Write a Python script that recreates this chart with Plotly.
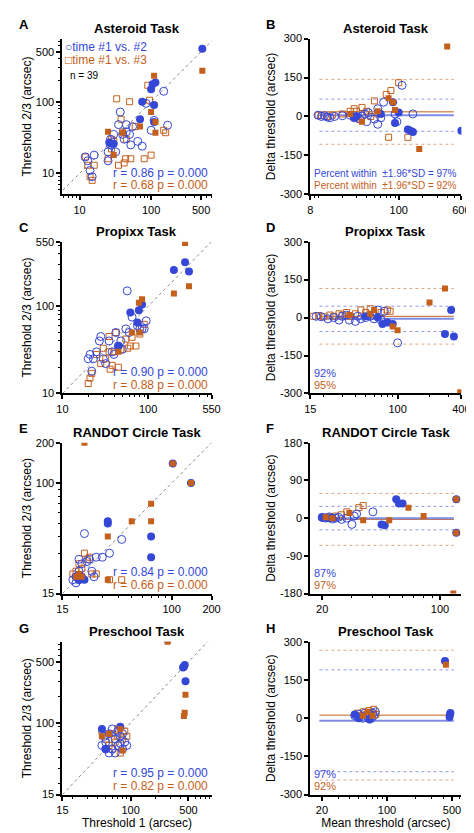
import plotly.graph_objects as go
import numpy as np

BLUE = "#3547d6"
ORANGE = "#c4601c"

# ---------------- Panel A (Asteroid scatter) ----------------
a_b_open_x = [12,13,14,15,16,25,25,27,30,32,35,37,40,45,45,50,52,55,65,75,85,100,110,150,170,27,42]
a_b_open_y = [17,15,11,9,18,20,15,25,35,20,48,72,35,48,38,35,25,45,28,24,95,40,55,140,47,30,30]
a_b_fill_x = [26,28,30,70,75,100,105,115,110,110,520]
a_b_fill_y = [27,26,26,57,100,150,175,185,90,52,550]
a_o_open_x = [12,13,14,15,16,25,28,30,33,35,38,40,42,44,50,52,60,80,90,95,100,150,160,28,45]
a_o_open_y = [17,13,9,8,13,16,22,28,110,13,57,38,14,16,100,16,45,16,170,105,18,40,37,30,30]
a_o_fill_x = [25,30,40,70,100,110,115,115,520]
a_o_fill_y = [38,18,37,45,72,230,52,37,270]

# ---------------- Panel B (Asteroid Bland-Altman) ----------------
b_b_open_x = [10,11,12,13,14,16,20,25,30,33,38,40,42,50,55,55,60,65,90,95,110,150,28,35]
b_b_open_y = [5,0,3,-2,-5,0,3,5,0,-10,10,-20,15,-10,-30,30,-5,55,10,-20,120,10,-5,2]
b_b_fill_x = [28,30,60,85,90,100,130,140,150,600]
b_b_fill_y = [-3,0,10,55,-25,15,-50,-55,-60,-55]
b_o_open_x = [10,11,13,15,20,25,28,30,35,40,45,50,55,70,75,80,100,130,32]
b_o_open_y = [5,3,0,5,10,20,30,20,35,20,0,60,10,85,-80,100,130,-80,-10]
b_o_fill_x = [25,35,55,75,85,90,180,400]
b_o_fill_y = [10,-20,20,70,55,25,-125,270]
b_stats = dict(bm=5, om=18, bsd=62, osd=125)

# ---------------- Panel C (Propixx scatter) ----------------
c_b_open_x = [20,21,22,23,25,27,28,30,32,35,38,40,42,45,48,50,55,57,60,65,75,80,85,90,95]
c_b_open_y = [25,28,18,25,30,40,45,25,22,40,30,28,50,35,40,32,55,150,50,75,60,55,55,55,68]
c_b_fill_x = [45,62,75,78,85,200,270,300]
c_b_fill_y = [35,85,65,90,105,260,320,250]
c_o_open_x = [20,21,22,25,28,30,32,35,36,38,40,42,45,48,55,58,62,65,72,80,90,35]
c_o_open_y = [13,15,17,28,22,33,25,30,19,21,30,50,20,32,42,33,35,44,35,48,62,45]
c_o_fill_x = [45,65,78,80,85,200,270,300]
c_o_fill_y = [30,50,110,50,120,140,530,170]

# ---------------- Panel D (Propixx Bland-Altman) ----------------
d_b_open_x = [17,19,22,25,28,30,33,35,40,42,45,50,55,60,65,70,75,100]
d_b_open_y = [5,3,-5,0,-10,5,10,-10,-15,5,-5,0,5,-5,30,-10,25,-100]
d_b_fill_x = [50,65,72,80,90,280,320,340]
d_b_fill_y = [5,0,-25,-20,-25,-65,30,-75]
d_o_open_x = [16,18,20,23,25,28,30,33,36,40,45,50,55,60,70,80,85]
d_o_open_y = [5,8,3,10,5,15,10,20,5,15,30,20,35,10,20,30,25]
d_o_fill_x = [35,55,60,90,100,200,280,390]
d_o_fill_y = [10,15,30,-35,-50,60,115,-295]
d_stats = dict(bm=-5, om=5, bsd=50, osd=110)

# ---------------- Panel E (RANDOT scatter) ----------------
e_b_open_x = [19,19,20,20,21,22,23,24,25,26,27,30,34,42,18,20]
e_b_open_y = [18,20,22,27,25,42,26,27,22,20,28,28,30,38,19,19]
e_b_fill_x = [19,20,21,22,33,33,70,70,102,140]
e_b_fill_y = [20,19,20,19,52,50,40,28,140,100]
e_o_open_x = [19,20,21,22,23,24,25,27,34,42,18]
e_o_open_y = [22,25,23,30,27,28,21,21,19,19,21]
e_o_fill_x = [19,20,21,22,33,33,50,70,70,102,140]
e_o_fill_y = [20,21,20,200,40,19,52,52,70,140,100]

# ---------------- Panel F (RANDOT Bland-Altman) ----------------
f_b_open_x = [20,21,22,23,24,25,26,28,30,31,32,40]
f_b_open_y = [2,0,3,-2,0,2,-3,0,-15,5,10,15]
f_b_fill_x = [20,21,22,23,45,47,55,57,60,125,125]
f_b_fill_y = [1,1,0,1,-15,-17,45,35,35,45,-35]
f_o_open_x = [20,22,24,26,28,33,35]
f_o_open_y = [2,3,5,8,15,25,30]
f_o_fill_x = [21,23,29,35,50,65,80,120,125,125]
f_o_fill_y = [2,0,12,-5,-5,25,5,-180,45,-35]
f_stats = dict(bm=0, om=-3, bsd=28, osd=62)

# ---------------- Panel G (Preschool scatter) ----------------
g_b_open_x = [45,50,55,60,65,70,75,80,85,55,60,70,80,50,90,48,65,75]
g_b_open_y = [55,60,45,50,65,55,70,50,60,75,85,80,75,50,55,70,45,58]
g_b_fill_x = [45,50,75,280,430,440,450,460]
g_b_fill_y = [85,50,90,900,430,440,460,300]
g_o_open_x = [45,50,55,60,65,70,75,80,85,60,70,90]
g_o_open_y = [80,65,55,75,60,85,45,65,80,50,70,70]
g_o_fill_x = [45,55,75,80,280,440,450,460]
g_o_fill_y = [70,75,85,48,850,120,130,210]

# ---------------- Panel H (Preschool Bland-Altman) ----------------
h_b_open_x = [45,48,50,55,58,60,62,65,68,70,72,75]
h_b_open_y = [10,5,15,0,20,10,5,15,0,20,10,25]
h_b_fill_x = [45,50,65,420,470,475,480]
h_b_fill_y = [15,0,-5,225,5,15,20]
h_o_open_x = [48,52,56,60,64,68,72,76]
h_o_open_y = [20,10,25,15,30,20,35,15]
h_o_fill_x = [55,62,70,430]
h_o_fill_y = [10,25,10,210]
h_stats = dict(bm=-10, om=12, bsd=200, osd=255)

titles = ["Asteroid Task", "Asteroid Task", "Propixx Task", "Propixx Task",
          "RANDOT Circle Task", "RANDOT Circle Task", "Preschool Task", "Preschool Task"]
letters = ["A", "B", "C", "D", "E", "F", "G", "H"]
r_texts = [("r = 0.86 p = 0.000", "r = 0.68 p = 0.000"),
           ("r = 0.90 p = 0.000", "r = 0.88 p = 0.000"),
           ("r = 0.84 p = 0.000", "r = 0.66 p = 0.000"),
           ("r = 0.95 p = 0.000", "r = 0.82 p = 0.000")]
pct_texts = [("Percent within  ±1.96*SD = 97%", "Percent within  ±1.96*SD = 92%"),
             ("92%", "95%"), ("87%", "97%"), ("97%", "92%")]

scatter_cfg = [
    ([5.75, 700], [10, 100, 500], [5.1, 760], [10, 100, 500]),
    ([10, 550], [10, 100, 550], [10, 550], [10, 100, 550]),
    ([15, 200], [15, 100, 200], [15, 200], [15, 100, 200]),
    ([15, 950], [15, 100, 500], [15, 850], [15, 100, 500]),
]
ba_cfg = [
    ([8, 600], [8, 100, 600], [-300, 300], [-300, -150, 0, 150, 300]),
    ([15, 400], [15, 100, 400], [-300, 300], [-300, -150, 0, 150, 300]),
    ([17, 134], [20, 100], [-180, 180], [-180, -90, 0, 90, 180]),
    ([15, 630], [20, 100, 500], [-300, 300], [-300, -150, 0, 150, 300]),
]
scatter_data = [
    (a_b_open_x, a_b_open_y, a_b_fill_x, a_b_fill_y, a_o_open_x, a_o_open_y, a_o_fill_x, a_o_fill_y),
    (c_b_open_x, c_b_open_y, c_b_fill_x, c_b_fill_y, c_o_open_x, c_o_open_y, c_o_fill_x, c_o_fill_y),
    (e_b_open_x, e_b_open_y, e_b_fill_x, e_b_fill_y, e_o_open_x, e_o_open_y, e_o_fill_x, e_o_fill_y),
    (g_b_open_x, g_b_open_y, g_b_fill_x, g_b_fill_y, g_o_open_x, g_o_open_y, g_o_fill_x, g_o_fill_y),
]
ba_data = [
    (b_b_open_x, b_b_open_y, b_b_fill_x, b_b_fill_y, b_o_open_x, b_o_open_y, b_o_fill_x, b_o_fill_y, b_stats),
    (d_b_open_x, d_b_open_y, d_b_fill_x, d_b_fill_y, d_o_open_x, d_o_open_y, d_o_fill_x, d_o_fill_y, d_stats),
    (f_b_open_x, f_b_open_y, f_b_fill_x, f_b_fill_y, f_o_open_x, f_o_open_y, f_o_fill_x, f_o_fill_y, f_stats),
    (h_b_open_x, h_b_open_y, h_b_fill_x, h_b_fill_y, h_o_open_x, h_o_open_y, h_o_fill_x, h_o_fill_y, h_stats),
]

W, H = 474, 833
xdom_left = [50 / W, 204 / W]
xdom_right = [306 / W, 462 / W]
ypx = [(25, 183), (231, 385), (435, 588), (637, 792)]
FONT = "Liberation Sans, Arial, sans-serif"

fig = go.Figure()
layout = dict(width=W, height=H, margin=dict(l=0, r=0, t=0, b=0),
              paper_bgcolor="white", plot_bgcolor="white", showlegend=False,
              font=dict(family=FONT, size=11, color="black"))
annotations = []
shapes = []


def minor_vals(lo, hi):
    out = []
    for d in range(-1, 4):
        for m in range(1, 10):
            v = m * 10 ** d
            if lo <= v <= hi:
                out.append(v)
    return out


def axis(dom, rng, ticks, log, anchor, title=None):
    ax = dict(domain=dom, anchor=anchor, showgrid=False, zeroline=False,
              showline=True, linecolor="black", linewidth=2, ticks="outside",
              ticklen=4, tickwidth=1.5, tickcolor="black", mirror=False,
              tickvals=ticks, ticktext=[str(t) for t in ticks],
              tickfont=dict(size=11))
    if log:
        ax["type"] = "log"
        ax["range"] = [np.log10(rng[0]), np.log10(rng[1])]
        ax["minor"] = dict(tickvals=minor_vals(rng[0], rng[1]), ticks="outside",
                           ticklen=2, tickwidth=1, tickcolor="black")
    else:
        ax["range"] = rng
    if title:
        ax["title"] = dict(text=title, font=dict(size=12), standoff=2)
    return ax


def txt(text, xpx, ypx_, anchor="center", size=12, color="black"):
    return dict(text=text, x=xpx / W, y=1 - ypx_ / H, xref="paper", yref="paper",
                xanchor=anchor, yanchor="middle", showarrow=False,
                font=dict(size=size, color=color))


def add_points(n, bo_x, bo_y, bf_x, bf_y, oo_x, oo_y, of_x, of_y):
    xa, ya = f"x{n}" if n > 1 else "x", f"y{n}" if n > 1 else "y"
    fig.add_trace(go.Scatter(x=oo_x, y=oo_y, mode="markers", xaxis=xa, yaxis=ya,
                             marker=dict(symbol="square-open", size=6, color=ORANGE, line=dict(width=1))))
    fig.add_trace(go.Scatter(x=bo_x, y=bo_y, mode="markers", xaxis=xa, yaxis=ya,
                             marker=dict(symbol="circle-open", size=8, color=BLUE, line=dict(width=1))))
    fig.add_trace(go.Scatter(x=bf_x, y=bf_y, mode="markers", xaxis=xa, yaxis=ya,
                             marker=dict(symbol="circle", size=8, color=BLUE)))
    fig.add_trace(go.Scatter(x=of_x, y=of_y, mode="markers", xaxis=xa, yaxis=ya,
                             marker=dict(symbol="square", size=6, color=ORANGE)))


for i in range(4):
    top, bot = ypx[i]
    yd = [1 - bot / H, 1 - top / H]
    n = 2 * i + 1
    xr, xt, yr, yt = scatter_cfg[i]
    xk = "xaxis" if n == 1 else f"xaxis{n}"
    yk = "yaxis" if n == 1 else f"yaxis{n}"
    xa = "x" if n == 1 else f"x{n}"
    ya = "y" if n == 1 else f"y{n}"
    layout[xk] = axis(xdom_left, xr, xt, True, ya, "Threshold 1 (arcsec)" if i == 3 else None)
    layout[yk] = axis(yd, yr, yt, True, xa, "Threshold 2/3 (arcsec)")
    lo, hi = min(xr[0], yr[0]), max(xr[1], yr[1])
    fig.add_trace(go.Scatter(x=[lo, hi], y=[lo, hi], mode="lines", xaxis=xa, yaxis=ya,
                             line=dict(color="#888888", width=1, dash="dot")))
    add_points(n, *scatter_data[i])
    annotations.append(txt(f"<b>{titles[2*i]}</b>", 127, top - 10, size=13))
    annotations.append(txt(f"<b>{letters[2*i]}</b>", 3, top - 14, anchor="left", size=13))
    annotations.append(txt(r_texts[i][0], 202, bot - 22, anchor="right", color=BLUE))
    annotations.append(txt(r_texts[i][1], 202, bot - 9, anchor="right", color=ORANGE))

    n = 2 * i + 2
    xr, xt, yr, yt = ba_cfg[i]
    xk, yk, xa, ya = f"xaxis{n}", f"yaxis{n}", f"x{n}", f"y{n}"
    layout[xk] = axis(xdom_right, xr, xt, True, ya, "Mean threshold (arcsec)" if i == 3 else None)
    layout[yk] = axis(yd, yr, yt, False, xa, "Delta threshold (arcsec)")
    d = ba_data[i]
    st = d[8]
    for val, col, dash, w in [(st["om"] + st["osd"], ORANGE, "dot", 1), (st["om"] - st["osd"], ORANGE, "dot", 1),
                              (st["bm"] + st["bsd"], BLUE, "dot", 1), (st["bm"] - st["bsd"], BLUE, "dot", 1),
                              (st["om"], ORANGE, "solid", 1), (st["bm"], "#7f8ce6", "solid", 2)]:
        shapes.append(dict(type="line", xref=f"{xa} domain", yref=ya, x0=0.06, x1=0.95, y0=val, y1=val,
                           line=dict(color=col, width=w, dash=dash), opacity=0.55 if dash == "dot" else 1,
                           layer="below"))
    add_points(n, *d[:8])
    annotations.append(txt(f"<b>{titles[2*i+1]}</b>", 384, top - 10, size=13))
    annotations.append(txt(f"<b>{letters[2*i+1]}</b>", 258, top - 14, anchor="left", size=13))
    fs = 10 if i == 0 else 11
    annotations.append(txt(pct_texts[i][0], 308, bot - 21, anchor="left", size=fs, color=BLUE))
    annotations.append(txt(pct_texts[i][1], 308, bot - 9, anchor="left", size=fs, color=ORANGE))

annotations += [
    txt("○time #1 vs. #2", 51, 33, anchor="left", color=BLUE),
    txt("□time #1 vs. #3", 51, 47, anchor="left", color=ORANGE),
    txt("n = 39", 56, 62, anchor="left", size=10),
]

layout["annotations"] = annotations
layout["shapes"] = shapes
fig.update_layout(**layout)
fig.write_html("out.html")
